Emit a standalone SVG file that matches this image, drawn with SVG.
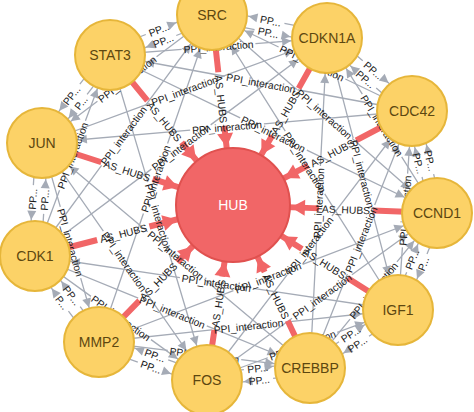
<svg xmlns="http://www.w3.org/2000/svg" xmlns:xlink="http://www.w3.org/1999/xlink" width="474" height="412" viewBox="0 0 474 412">
<style>
.e{fill:none;stroke:#A5ABB6;stroke-width:1.3}
.h{fill:none;stroke:#F16667;stroke-width:6}
.l{font-family:"Liberation Sans",Arial,sans-serif;font-size:10.3px;fill:#1a1a1a;text-anchor:middle;dominant-baseline:central}
.n circle{fill:#FCD267;stroke:#E6B63A;stroke-width:2}
.n text{font-family:"Liberation Sans",Arial,sans-serif;font-size:14px;fill:#5C4710;text-anchor:middle;dominant-baseline:central}
#HUB circle{fill:#F16667;stroke:#E0514F;stroke-width:2}
#HUB text{font-family:"Liberation Sans",Arial,sans-serif;font-size:14px;fill:#FFFFFF;text-anchor:middle;dominant-baseline:central}
.s{marker-start:url(#ag)}
.t{marker-end:url(#ag)}
.hs{marker-start:url(#ar)}
.ht{marker-end:url(#ar)}
marker{overflow:visible}
</style>
<defs>
<marker id="ag" markerUnits="userSpaceOnUse" orient="auto-start-reverse" overflow="visible" markerWidth="1" markerHeight="1"><path d="M-36,0 L-45,-4.5 L-45,4.5 z" fill="#A5ABB6"/></marker>
<marker id="ar" markerUnits="userSpaceOnUse" orient="auto-start-reverse" overflow="visible" markerWidth="1" markerHeight="1"><path d="M-58,0 L-72,-8 L-72,8 z" fill="#F16667"/></marker>
</defs>
<g id="connectors">
<g id="ring">
<path id="r1a" class="e s" d="M213.2,9.1 L328.2,32.1" stroke-dasharray="44.65 28 400"/>
<path id="r1b" class="e t" d="M210.8,20.9 L325.8,43.9" stroke-dasharray="44.65 28 400"/>
<path id="r2a" class="e t" d="M330.9,33.5 L415.9,106.5" stroke-dasharray="42 28 400"/>
<path id="r2b" class="e s" d="M323.1,42.5 L408.1,115.5" stroke-dasharray="42 28 400"/>
<path id="r3a" class="e s" d="M417.8,109.6 L442.8,211.6" stroke-dasharray="38.5 28 400"/>
<path id="r3b" class="e s" d="M406.2,112.4 L431.2,214.4" stroke-dasharray="38.5 28 400"/>
<path id="r4a" class="e s" d="M403.6,312.2 L442.6,215.2" stroke-dasharray="41.75 21 400"/>
<path id="r4b" class="e t" d="M392.4,307.8 L431.4,210.8" stroke-dasharray="38.25 28 400"/>
<path id="r5a" class="e s" d="M313.3,373 L401.3,315" stroke-dasharray="38.7 28 400"/>
<path id="r5b" class="e t" d="M306.7,363 L394.7,305" stroke-dasharray="38.7 28 400"/>
<path id="r6a" class="e s" d="M207.7,386 L310.7,374" stroke-dasharray="37.85 28 400"/>
<path id="r6b" class="e t" d="M206.3,374 L309.3,362" stroke-dasharray="37.85 28 400"/>
<path id="r7a" class="e t" d="M97,347.7 L205,385.7" stroke-dasharray="43.25 28 400"/>
<path id="r7b" class="e s" d="M101,336.3 L209,374.3" stroke-dasharray="43.25 28 400"/>
<path id="r8a" class="e s" d="M30.2,259.6 L94.2,345.6" stroke-dasharray="43.1 21 400"/>
<path id="r8b" class="e s" d="M39.8,252.4 L103.8,338.4" stroke-dasharray="39.6 28 400"/>
<path id="r9a" class="e t" d="M41,256.4 L48,143.4" stroke-dasharray="42.6 28 400"/>
<path id="r9b" class="e s" d="M29,255.6 L36,142.6" stroke-dasharray="42.6 28 400"/>
<path id="r10a" class="e s" d="M46.7,146.7 L114.7,58.7" stroke-dasharray="45.1 21 400"/>
<path id="r10b" class="e s" d="M37.3,139.3 L105.3,51.3" stroke-dasharray="41.6 28 400"/>
<path id="r11a" class="e s" d="M112.2,60.6 L214.2,20.6" stroke-dasharray="40.8 28 400"/>
<path id="r11b" class="e t" d="M107.8,49.4 L209.8,9.4" stroke-dasharray="40.8 28 400"/>
</g>
<g id="chords">
<path id="c1" class="e s" d="M212,15 L412,111" stroke-dasharray="73.9 74 600"/>
<path id="c2" class="e t" d="M212,15 L437,213" stroke-dasharray="112.85 74 600"/>
<path id="c3" class="e s" d="M42,143 L212,15" stroke-dasharray="69.4 74 600"/>
<path id="c4" class="e t" d="M99,342 L212,15" stroke-dasharray="136 74 600"/>
<path id="c5" class="e s" d="M212,15 L398,310" stroke-dasharray="137.35 74 600"/>
<path id="c6" class="e t" d="M35,256 L212,15" stroke-dasharray="112.5 74 600"/>
<path id="c7" class="e t" d="M110,55 L327,38" stroke-dasharray="71.85 74 600"/>
<path id="c8" class="e s" d="M110,55 L412,111" stroke-dasharray="116.55 74 600"/>
<path id="c9" class="e t" d="M110,55 L437,213" stroke-dasharray="144.6 74 600"/>
<path id="c10" class="e t" d="M35,256 L110,55" stroke-dasharray="70.25 74 600"/>
<path id="c11" class="e t" d="M110,55 L207,380" stroke-dasharray="132.6 74 600"/>
<path id="c13" class="e t" d="M42,143 L327,38" stroke-dasharray="114.85 74 600"/>
<path id="c14" class="e s" d="M42,143 L412,111" stroke-dasharray="148.7 74 600"/>
<path id="c16" class="e t" d="M42,143 L99,342" stroke-dasharray="66.5 74 600"/>
<path id="c17" class="e t" d="M42,143 L207,380" stroke-dasharray="107.4 74 600"/>
<path id="c18" class="e s" d="M42,143 L310,368" stroke-dasharray="137.95 74 600"/>
<path id="c19" class="e t" d="M35,256 L327,38" stroke-dasharray="145.2 74 600"/>
<path id="c20" class="e s" d="M35,256 L398,310" stroke-dasharray="146.5 74 600"/>
<path id="c21" class="e t" d="M35,256 L207,380" stroke-dasharray="69 74 600"/>
<path id="c22" class="e t" d="M35,256 L310,368" stroke-dasharray="111.45 74 600"/>
<path id="c23" class="e t" d="M99,342 L437,213" stroke-dasharray="143.9 74 600"/>
<path id="c24" class="e t" d="M99,342 L398,310" stroke-dasharray="113.35 74 600"/>
<path id="c25" class="e t" d="M99,342 L310,368" stroke-dasharray="69.3 74 600"/>
<path id="c26" class="e t" d="M207,380 L412,111" stroke-dasharray="132.1 74 600"/>
<path id="c27" class="e t" d="M207,380 L398,310" stroke-dasharray="64.7 74 600"/>
<path id="c28" class="e t" d="M207,380 L437,213" stroke-dasharray="105.1 74 600"/>
<path id="c29" class="e t" d="M310,368 L327,38" stroke-dasharray="128.2 74 600"/>
<path id="c30" class="e t" d="M310,368 L412,111" stroke-dasharray="101.25 74 600"/>
<path id="c31" class="e t" d="M310,368 L437,213" stroke-dasharray="63.2 74 600"/>
<path id="c32" class="e t" d="M327,38 L398,310" stroke-dasharray="103.55 74 600"/>
<path id="c33" class="e t" d="M398,310 L412,111" stroke-dasharray="62.75 74 600"/>
<path id="c34" class="e s" d="M327,38 L437,213" stroke-dasharray="66.35 74 600"/>
</g>
<g id="hubs">
<path id="h1" class="h ht" d="M212,15 L233,205" stroke-dasharray="57.6 54 400"/>
<path id="h2" class="h hs" d="M233,205 L327,38" stroke-dasharray="79.8 54 400"/>
<path id="h3" class="h hs" d="M233,205 L412,111" stroke-dasharray="85.1 54 400"/>
<path id="h4" class="h hs" d="M233,205 L437,213" stroke-dasharray="86.1 54 400"/>
<path id="h5" class="h hs" d="M233,205 L398,310" stroke-dasharray="81.8 54 400"/>
<path id="h6" class="h hs" d="M233,205 L310,368" stroke-dasharray="74.1 54 400"/>
<path id="h7" class="h ht" d="M207,380 L233,205" stroke-dasharray="50.5 54 400"/>
<path id="h8" class="h ht" d="M99,342 L233,205" stroke-dasharray="57.8 54 400"/>
<path id="h9" class="h ht" d="M35,256 L233,205" stroke-dasharray="64.2 54 400"/>
<path id="h10" class="h ht" d="M42,143 L233,205" stroke-dasharray="62.4 54 400"/>
<path id="h11" class="h ht" d="M110,55 L233,205" stroke-dasharray="59 54 400"/>
</g>
<g id="labels">
<text class="l"><textPath href="#r1a" startOffset="50%">PP...</textPath></text>
<text class="l"><textPath href="#r1b" startOffset="50%">PP...</textPath></text>
<text class="l"><textPath href="#r2a" startOffset="50%">PP...</textPath></text>
<text class="l"><textPath href="#r2b" startOffset="50%">PP...</textPath></text>
<text class="l"><textPath href="#r3a" startOffset="50%">PP...</textPath></text>
<text class="l"><textPath href="#r3b" startOffset="50%">PP...</textPath></text>
<text class="l"><textPath href="#r4a" startOffset="50%">P...</textPath></text>
<text class="l"><textPath href="#r4b" startOffset="50%">PP...</textPath></text>
<text class="l"><textPath href="#r5a" startOffset="50%">PP...</textPath></text>
<text class="l"><textPath href="#r5b" startOffset="50%">PP...</textPath></text>
<text class="l"><textPath href="#r6a" startOffset="50%">PP...</textPath></text>
<text class="l"><textPath href="#r6b" startOffset="50%">PP...</textPath></text>
<text class="l"><textPath href="#r7a" startOffset="50%">PP...</textPath></text>
<text class="l"><textPath href="#r7b" startOffset="50%">PP...</textPath></text>
<text class="l"><textPath href="#r8a" startOffset="50%">P...</textPath></text>
<text class="l"><textPath href="#r8b" startOffset="50%">PP...</textPath></text>
<text class="l"><textPath href="#r9a" startOffset="50%">PP...</textPath></text>
<text class="l"><textPath href="#r9b" startOffset="50%">PP...</textPath></text>
<text class="l"><textPath href="#r10a" startOffset="50%">P...</textPath></text>
<text class="l"><textPath href="#r10b" startOffset="50%">PP...</textPath></text>
<text class="l"><textPath href="#r11a" startOffset="50%">PP...</textPath></text>
<text class="l"><textPath href="#r11b" startOffset="50%">PP...</textPath></text>
<text class="l"><textPath href="#c1" startOffset="50%">PPI_interaction</textPath></text>
<text class="l"><textPath href="#c2" startOffset="50%">PPI_interaction</textPath></text>
<text class="l"><textPath href="#c3" startOffset="50%">PPI_interaction</textPath></text>
<text class="l"><textPath href="#c4" startOffset="50%">PPI_interaction</textPath></text>
<text class="l"><textPath href="#c5" startOffset="50%">PPI_interaction</textPath></text>
<text class="l"><textPath href="#c6" startOffset="50%">PPI_interaction</textPath></text>
<text class="l"><textPath href="#c7" startOffset="50%">PPI_interaction</textPath></text>
<text class="l"><textPath href="#c8" startOffset="50%">PPI_interaction</textPath></text>
<text class="l"><textPath href="#c9" startOffset="50%">PPI_interaction</textPath></text>
<text class="l"><textPath href="#c10" startOffset="50%">PPI_interaction</textPath></text>
<text class="l"><textPath href="#c11" startOffset="50%">PPI_interaction</textPath></text>
<text class="l"><textPath href="#c13" startOffset="50%">PPI_interaction</textPath></text>
<text class="l"><textPath href="#c14" startOffset="50%">PPI_interaction</textPath></text>
<text class="l"><textPath href="#c16" startOffset="50%">PPI_interaction</textPath></text>
<text class="l"><textPath href="#c17" startOffset="50%">PPI_interaction</textPath></text>
<text class="l"><textPath href="#c18" startOffset="50%">PPI_interaction</textPath></text>
<text class="l"><textPath href="#c19" startOffset="50%">PPI_interaction</textPath></text>
<text class="l"><textPath href="#c20" startOffset="50%">PPI_interaction</textPath></text>
<text class="l"><textPath href="#c21" startOffset="50%">PPI_interaction</textPath></text>
<text class="l"><textPath href="#c22" startOffset="50%">PPI_interaction</textPath></text>
<text class="l"><textPath href="#c23" startOffset="50%">PPI_interaction</textPath></text>
<text class="l"><textPath href="#c24" startOffset="50%">PPI_interaction</textPath></text>
<text class="l"><textPath href="#c25" startOffset="50%">PPI_interaction</textPath></text>
<text class="l"><textPath href="#c26" startOffset="50%">PPI_interaction</textPath></text>
<text class="l"><textPath href="#c27" startOffset="50%">PPI_interaction</textPath></text>
<text class="l"><textPath href="#c28" startOffset="50%">PPI_interaction</textPath></text>
<text class="l"><textPath href="#c29" startOffset="50%">PPI_interaction</textPath></text>
<text class="l"><textPath href="#c30" startOffset="50%">PPI_interaction</textPath></text>
<text class="l"><textPath href="#c31" startOffset="50%">PPI_interaction</textPath></text>
<text class="l"><textPath href="#c32" startOffset="50%">PPI_interaction</textPath></text>
<text class="l"><textPath href="#c33" startOffset="50%">PPI_interaction</textPath></text>
<text class="l"><textPath href="#c34" startOffset="50%">PPI_interaction</textPath></text>
<text class="l"><textPath href="#h1" startOffset="84.6">AS_HUBS</textPath></text>
<text class="l"><textPath href="#h2" startOffset="106.8">AS_HUBS</textPath></text>
<text class="l"><textPath href="#h3" startOffset="112.1">AS_HUBS</textPath></text>
<text class="l"><textPath href="#h4" startOffset="113.1">AS_HUBS</textPath></text>
<text class="l"><textPath href="#h5" startOffset="108.8">AS_HUBS</textPath></text>
<text class="l"><textPath href="#h6" startOffset="101.1">AS_HUBS</textPath></text>
<text class="l"><textPath href="#h7" startOffset="77.5">AS_HUBS</textPath></text>
<text class="l"><textPath href="#h8" startOffset="84.8">AS_HUBS</textPath></text>
<text class="l"><textPath href="#h9" startOffset="91.2">AS_HUBS</textPath></text>
<text class="l"><textPath href="#h10" startOffset="89.4">AS_HUBS</textPath></text>
<text class="l"><textPath href="#h11" startOffset="86">AS_HUBS</textPath></text>
</g>
</g>
<g id="HUB"><circle cx="233" cy="205" r="57"/><text x="233" y="205">HUB</text></g>
<g id="SRC" class="n"><circle cx="212" cy="15" r="35"/><text x="212" y="15">SRC</text></g>
<g id="CDKN1A" class="n"><circle cx="327" cy="38" r="35"/><text x="327" y="38">CDKN1A</text></g>
<g id="CDC42" class="n"><circle cx="412" cy="111" r="35"/><text x="412" y="111">CDC42</text></g>
<g id="CCND1" class="n"><circle cx="437" cy="213" r="35"/><text x="437" y="213">CCND1</text></g>
<g id="IGF1" class="n"><circle cx="398" cy="310" r="35"/><text x="398" y="310">IGF1</text></g>
<g id="CREBBP" class="n"><circle cx="310" cy="368" r="35"/><text x="310" y="368">CREBBP</text></g>
<g id="FOS" class="n"><circle cx="207" cy="380" r="35"/><text x="207" y="380">FOS</text></g>
<g id="MMP2" class="n"><circle cx="99" cy="342" r="35"/><text x="99" y="342">MMP2</text></g>
<g id="CDK1" class="n"><circle cx="35" cy="256" r="35"/><text x="35" y="256">CDK1</text></g>
<g id="JUN" class="n"><circle cx="42" cy="143" r="35"/><text x="42" y="143">JUN</text></g>
<g id="STAT3" class="n"><circle cx="110" cy="55" r="35"/><text x="110" y="55">STAT3</text></g>
</svg>
